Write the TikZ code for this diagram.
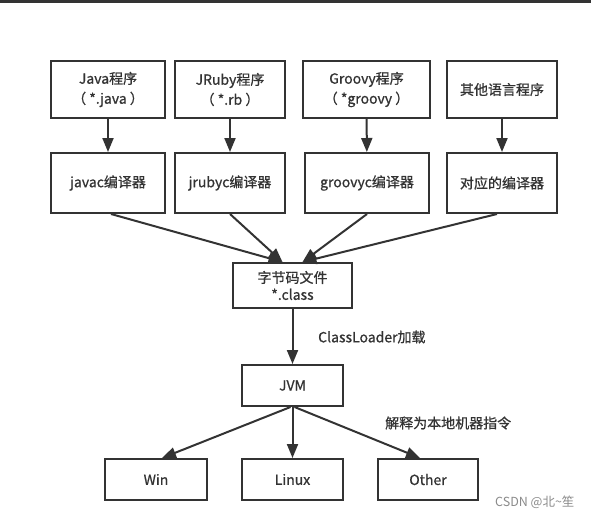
\documentclass[tikz,border=0pt]{standalone}
\usepackage{fontspec}
\usepackage{tikz}
\usetikzlibrary{arrows.meta}
\newfontfamily\cjk[FakeBold=0.8]{Noto Sans CJK SC}
\newfontfamily\cjkthin{Noto Sans CJK SC}
\definecolor{ink}{HTML}{333333}
\definecolor{mark}{HTML}{8A8A8A}

\tikzset{
  box/.style={draw=ink, line width=2pt, fill=white, text=ink, align=center,
    inner sep=0pt, font=\cjk\fontsize{14}{20}\selectfont},
  flow/.style={draw=ink, line width=2pt, -{Triangle[length=14pt,width=11pt]}},
  note/.style={text=ink, anchor=west, inner sep=0pt, font=\cjk\fontsize{14}{18}\selectfont}
}

\begin{document}
\begin{tikzpicture}[x=1pt, y=-1pt]
      % Frame and top bar:
      \useasboundingbox (0, 0) rectangle (591, 517);
      \fill[ink] (0, 0) rectangle (591, 3);
      % Source programs:
      \node[box, minimum width=114, minimum height=57](src1) at (108, 89.5){Java程序\\（ *.java ）};
      \node[box, minimum width=110, minimum height=57](src2) at (230, 89.5){JRuby程序\\（ *.rb ）};
      \node[box, minimum width=127, minimum height=57](src3) at (366.5, 89.5){Groovy程序\\（ *groovy ）};
      \node[box, minimum width=110, minimum height=57](src4) at (502, 89.5){其他语言程序};
      % Compilers:
      \node[box, minimum width=114, minimum height=60](cmp1) at (108, 183){javac编译器};
      \node[box, minimum width=110, minimum height=60](cmp2) at (230, 183){jrubyc编译器};
      \node[box, minimum width=124, minimum height=60](cmp3) at (367, 183){groovyc编译器};
      \node[box, minimum width=110, minimum height=60](cmp4) at (502, 183){对应的编译器};
      \foreach \i in {1,...,4}
        \draw[flow] (src\i) -- (cmp\i);
      % Byte code and JVM:
      \node[box, minimum width=119, minimum height=45](cls) at (292.5, 285.5){字节码文件\\[-3pt]*.class};
      \node[box, minimum width=101, minimum height=41](jvm) at (292.5, 385.5){JVM};
      \draw[flow] ([xshift=3]cmp1.south) -- ([xshift=-10]cls.north);
      \draw[flow] (cmp2.south) -- ([xshift=-10]cls.north);
      \draw[flow] (cmp3.south) -- ([xshift=10]cls.north);
      \draw[flow] ([xshift=-5]cmp4.south) -- ([xshift=10]cls.north);
      \draw[flow] (cls) -- (jvm);
      \node[note](lbl1) at (318, 337){ClassLoader加载};
      % Platforms:
      \node[box, minimum width=102, minimum height=41](win) at (156, 479.5){Win};
      \node[box, minimum width=101, minimum height=41](linux) at (292.5, 479.5){Linux};
      \node[box, minimum width=100, minimum height=41](other) at (428, 479.5){Other};
      \draw[flow] ([xshift=-2]jvm.south) -- ([xshift=6]win.north);
      \draw[flow] (jvm) -- (linux);
      \draw[flow] ([xshift=2]jvm.south) -- ([xshift=-8]other.north);
      \node[note](lbl2) at (385, 423){解释为本地机器指令};
      \node[note, text=mark, font=\cjkthin\fontsize{12.5}{14}\selectfont](wm) at (495, 502){CSDN @北\textasciitilde 笙};
    \end{tikzpicture}
\end{document}
